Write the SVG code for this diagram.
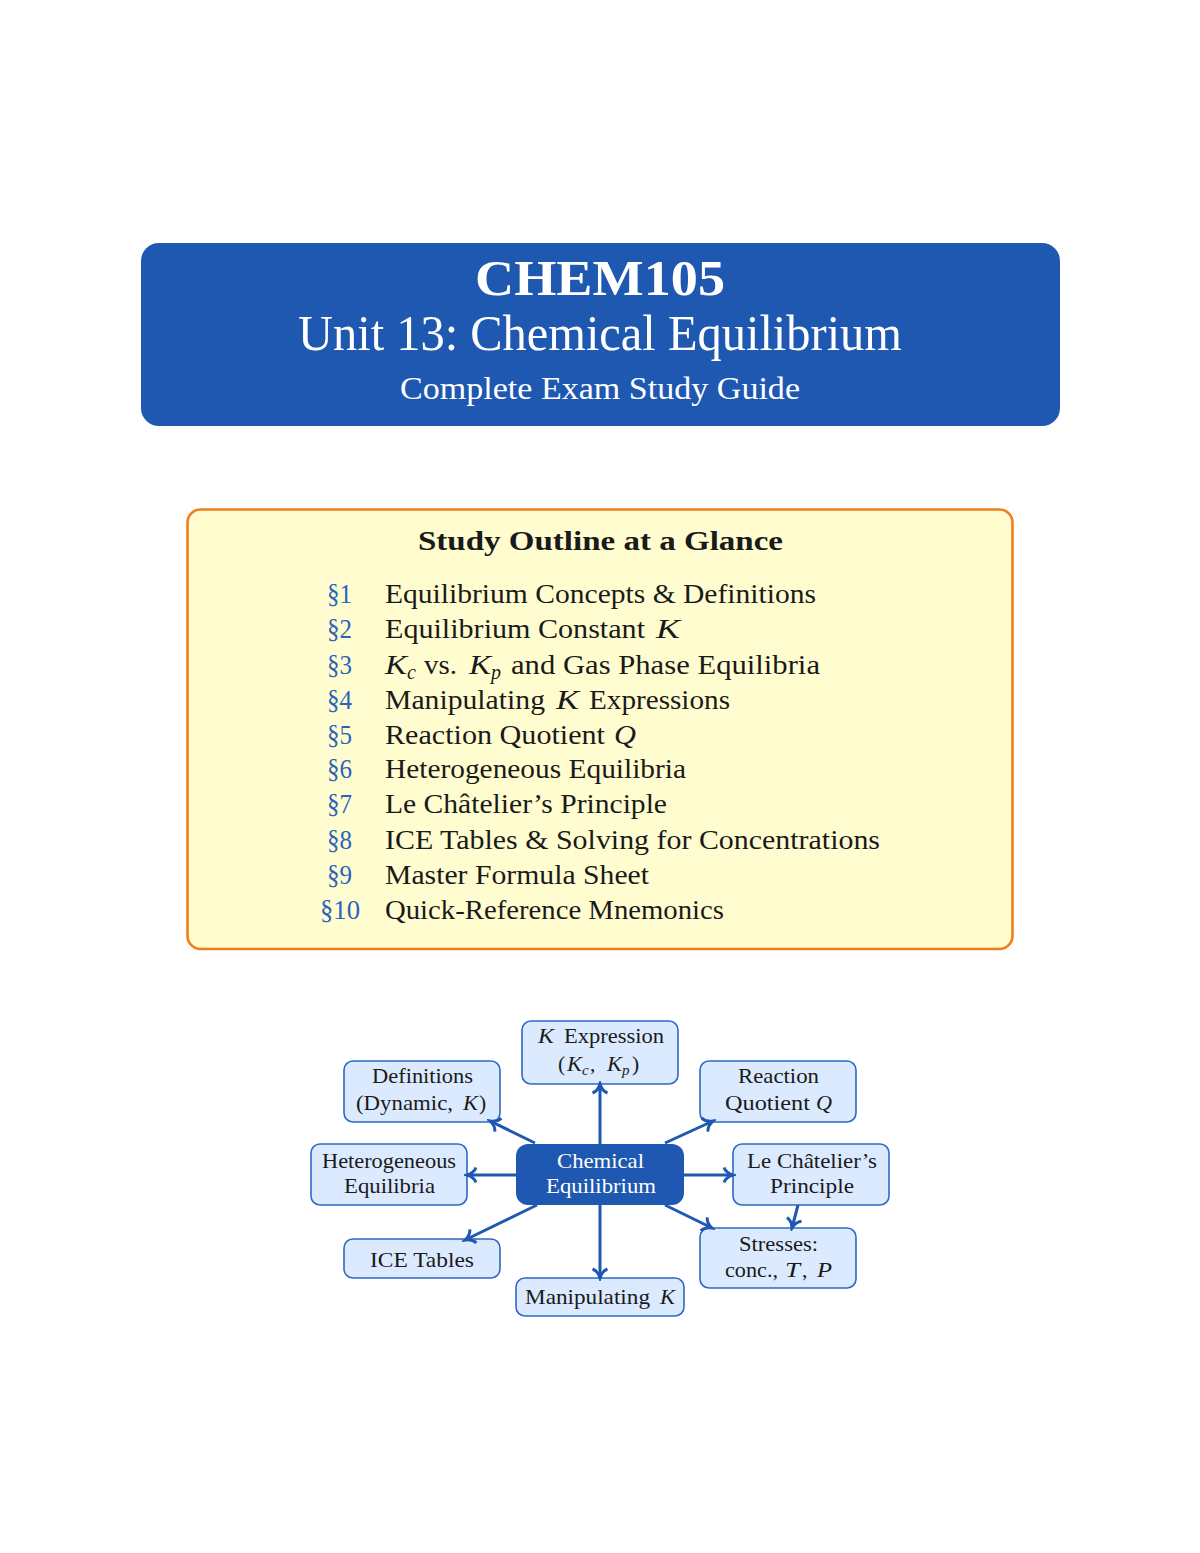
<svg xmlns="http://www.w3.org/2000/svg" width="1200" height="1553" viewBox="0 0 1200 1553">
<style>
text{font-family:"Liberation Serif","Times New Roman",serif;fill:#1a1a1a}
.i{font-style:italic}
.h{fill:#fff}
.l{font-size:28px}
.s{font-size:28px;fill:#2a62bc}
.sub{font-size:20px;font-style:italic}
.n{font-size:21.5px}
.nsub{font-size:15px;font-style:italic}
.box{fill:#dbeafe;stroke:#2f68c4;stroke-width:1.6}
.conn{fill:none;stroke:#1e58b0;stroke-width:3;marker-end:url(#arr)}
</style>
<defs>
<marker id="arr" markerUnits="userSpaceOnUse" markerWidth="16" markerHeight="20" refX="13" refY="10" orient="auto">
<path d="M4 2.500Q6 8 13 10Q6 12 4 17.500" fill="none" stroke="#1e58b0" stroke-width="3"/>
</marker>
</defs>
<rect width="1200" height="1553" fill="#fff"/>
<g id="title-banner">
<rect x="141" y="243" width="919" height="183" rx="18" fill="#1e58b0"/>
<text class="h" x="475" y="295" font-size="50" font-weight="700" textLength="250" lengthAdjust="spacingAndGlyphs">CHEM105</text>
<text class="h" x="298" y="350" font-size="50" textLength="604" lengthAdjust="spacingAndGlyphs">Unit 13: Chemical Equilibrium</text>
<text class="h" x="400" y="399" font-size="32" textLength="400" lengthAdjust="spacingAndGlyphs">Complete Exam Study Guide</text>
</g>
<g id="study-outline">
<rect x="187.500" y="509.500" width="825" height="439.500" rx="13" fill="#fffdd0" stroke="#ee7f1c" stroke-width="2.600"/>
<text x="418" y="550" font-size="28" font-weight="700" textLength="365" lengthAdjust="spacingAndGlyphs">Study Outline at a Glance</text>
<text class="s" x="327" y="603" textLength="25" lengthAdjust="spacingAndGlyphs">§1</text>
<text class="s" x="327" y="638" textLength="25" lengthAdjust="spacingAndGlyphs">§2</text>
<text class="s" x="327" y="674" textLength="25" lengthAdjust="spacingAndGlyphs">§3</text>
<text class="s" x="327" y="709" textLength="25" lengthAdjust="spacingAndGlyphs">§4</text>
<text class="s" x="327" y="744" textLength="25" lengthAdjust="spacingAndGlyphs">§5</text>
<text class="s" x="327" y="778" textLength="25" lengthAdjust="spacingAndGlyphs">§6</text>
<text class="s" x="327" y="813" textLength="25" lengthAdjust="spacingAndGlyphs">§7</text>
<text class="s" x="327" y="849" textLength="25" lengthAdjust="spacingAndGlyphs">§8</text>
<text class="s" x="327" y="884" textLength="25" lengthAdjust="spacingAndGlyphs">§9</text>
<text class="s" x="320" y="919" textLength="40" lengthAdjust="spacingAndGlyphs">§10</text>
<text class="l" x="385" y="603" textLength="431" lengthAdjust="spacingAndGlyphs">Equilibrium Concepts &amp; Definitions</text>
<text class="l" x="385" y="638" textLength="260" lengthAdjust="spacingAndGlyphs">Equilibrium Constant</text>
<text class="l i" x="656" y="638" textLength="24" lengthAdjust="spacingAndGlyphs">K</text>
<text class="l i" x="385" y="674" textLength="22" lengthAdjust="spacingAndGlyphs">K</text>
<text class="sub" x="407" y="679">c</text>
<text class="l" x="424" y="674" textLength="33" lengthAdjust="spacingAndGlyphs">vs.</text>
<text class="l i" x="469" y="674" textLength="22" lengthAdjust="spacingAndGlyphs">K</text>
<text class="sub" x="491" y="679">p</text>
<text class="l" x="511" y="674" textLength="309" lengthAdjust="spacingAndGlyphs">and Gas Phase Equilibria</text>
<text class="l" x="385" y="709" textLength="160" lengthAdjust="spacingAndGlyphs">Manipulating</text>
<text class="l i" x="556" y="709" textLength="23" lengthAdjust="spacingAndGlyphs">K</text>
<text class="l" x="589" y="709" textLength="141" lengthAdjust="spacingAndGlyphs">Expressions</text>
<text class="l" x="385" y="744" textLength="220" lengthAdjust="spacingAndGlyphs">Reaction Quotient</text>
<text class="l i" x="614" y="744" textLength="22" lengthAdjust="spacingAndGlyphs">Q</text>
<text class="l" x="385" y="778" textLength="301" lengthAdjust="spacingAndGlyphs">Heterogeneous Equilibria</text>
<text class="l" x="385" y="813" textLength="282" lengthAdjust="spacingAndGlyphs">Le Châtelier’s Principle</text>
<text class="l" x="385" y="849" textLength="495" lengthAdjust="spacingAndGlyphs">ICE Tables &amp; Solving for Concentrations</text>
<text class="l" x="385" y="884" textLength="264" lengthAdjust="spacingAndGlyphs">Master Formula Sheet</text>
<text class="l" x="385" y="919" textLength="339" lengthAdjust="spacingAndGlyphs">Quick-Reference Mnemonics</text>
</g>
<g id="node-center">
<rect x="516" y="1144" width="168" height="61" rx="12" fill="#1e58b0"/>
<text class="n h" x="557" y="1168" textLength="87" lengthAdjust="spacingAndGlyphs">Chemical</text>
<text class="n h" x="546" y="1193" textLength="110" lengthAdjust="spacingAndGlyphs">Equilibrium</text>
</g>
<g id="node-k-expression">
<rect class="box" x="522" y="1021" width="156" height="63" rx="9"/>
<text class="n i" x="538" y="1043" textLength="16" lengthAdjust="spacingAndGlyphs">K</text>
<text class="n" x="564" y="1043" textLength="100" lengthAdjust="spacingAndGlyphs">Expression</text>
<text class="n" x="558" y="1071">(</text>
<text class="n i" x="567" y="1071" textLength="15" lengthAdjust="spacingAndGlyphs">K</text>
<text class="nsub" x="582" y="1075">c</text>
<text class="n" x="590" y="1071">,</text>
<text class="n i" x="607" y="1071" textLength="15" lengthAdjust="spacingAndGlyphs">K</text>
<text class="nsub" x="622" y="1075">p</text>
<text class="n" x="632" y="1071">)</text>
</g>
<g id="node-definitions">
<rect class="box" x="344" y="1061" width="156" height="61" rx="9"/>
<text class="n" x="372" y="1083" textLength="101" lengthAdjust="spacingAndGlyphs">Definitions</text>
<text class="n" x="356" y="1110" textLength="97" lengthAdjust="spacingAndGlyphs">(Dynamic,</text>
<text class="n i" x="463" y="1110" textLength="15" lengthAdjust="spacingAndGlyphs">K</text>
<text class="n" x="479" y="1110">)</text>
</g>
<g id="node-reaction-quotient">
<rect class="box" x="700" y="1061" width="156" height="61" rx="9"/>
<text class="n" x="738" y="1083" textLength="81" lengthAdjust="spacingAndGlyphs">Reaction</text>
<text class="n" x="725" y="1110" textLength="85" lengthAdjust="spacingAndGlyphs">Quotient</text>
<text class="n i" x="816" y="1110" textLength="16" lengthAdjust="spacingAndGlyphs">Q</text>
</g>
<g id="node-heterogeneous">
<rect class="box" x="311" y="1144" width="156" height="61" rx="9"/>
<text class="n" x="322" y="1168" textLength="134" lengthAdjust="spacingAndGlyphs">Heterogeneous</text>
<text class="n" x="344" y="1193" textLength="91" lengthAdjust="spacingAndGlyphs">Equilibria</text>
</g>
<g id="node-le-chatelier">
<rect class="box" x="733" y="1144" width="156" height="61" rx="9"/>
<text class="n" x="747" y="1168" textLength="130" lengthAdjust="spacingAndGlyphs">Le Châtelier’s</text>
<text class="n" x="770" y="1193" textLength="84" lengthAdjust="spacingAndGlyphs">Principle</text>
</g>
<g id="node-ice-tables">
<rect class="box" x="344" y="1239" width="156" height="39" rx="9"/>
<text class="n" x="370" y="1267" textLength="104" lengthAdjust="spacingAndGlyphs">ICE Tables</text>
</g>
<g id="node-stresses">
<rect class="box" x="700" y="1228" width="156" height="60" rx="9"/>
<text class="n" x="739" y="1251" textLength="79" lengthAdjust="spacingAndGlyphs">Stresses:</text>
<text class="n" x="725" y="1277" textLength="53" lengthAdjust="spacingAndGlyphs">conc.,</text>
<text class="n i" x="785" y="1277" textLength="15" lengthAdjust="spacingAndGlyphs">T</text>
<text class="n" x="802" y="1277">,</text>
<text class="n i" x="817" y="1277" textLength="15" lengthAdjust="spacingAndGlyphs">P</text>
</g>
<g id="node-manipulating">
<rect class="box" x="516" y="1278" width="168" height="38" rx="9"/>
<text class="n" x="525" y="1304" textLength="125" lengthAdjust="spacingAndGlyphs">Manipulating</text>
<text class="n i" x="660" y="1304" textLength="15" lengthAdjust="spacingAndGlyphs">K</text>
</g>
<g id="connectors">
<path class="conn" d="M600 1144V1084"/>
<path class="conn" d="M535 1143L490 1121"/>
<path class="conn" d="M665 1143L713 1121"/>
<path class="conn" d="M516 1175H467"/>
<path class="conn" d="M684 1175H733"/>
<path class="conn" d="M537 1205L465 1240"/>
<path class="conn" d="M665 1205L712 1228"/>
<path class="conn" d="M600 1205V1278"/>
<path class="conn" d="M798 1205L792 1228"/>
</g>
</svg>
